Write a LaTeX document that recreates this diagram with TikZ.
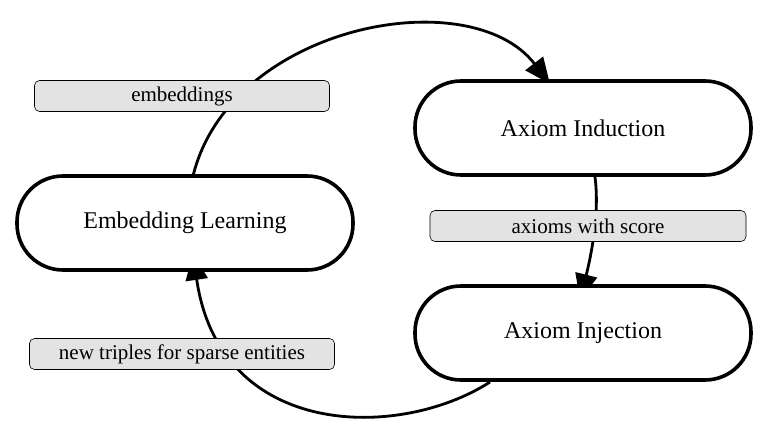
\documentclass[tikz,border=0pt]{standalone}
\usepackage{fontspec}
\setmainfont{Liberation Serif}
\usetikzlibrary{arrows.meta}
\begin{document}
\begin{tikzpicture}[x=1pt,y=-1pt,
  box/.style={draw,line width=3.6pt,rounded corners=46pt,minimum width=336pt,minimum height=94pt,font=\fontsize{24}{28}\selectfont,fill=white},
  lab/.style={draw,line width=0.6pt,fill=gray!22,rounded corners=5pt,minimum height=31pt,font=\fontsize{21}{24}\selectfont},
  arr/.style={line width=2.8pt,-{Triangle[length=26pt,width=22pt]}}]
\useasboundingbox (0,0) rectangle (768,430);
\draw[arr] (193,176) .. controls (230,25) and (470,-20) .. (550,84);
\draw[arr] (595,177) .. controls (600,215) and (590,260) .. (580,300);
\draw[arr] (490,382) .. controls (400,440) and (220,440) .. (193,254);
\node[lab,minimum width=295pt] (l1) at (182,96) {embeddings};
\node[lab,minimum width=316pt] (l2) at (588,226) {axioms with score};
\node[lab,minimum width=305pt] (l3) at (182,354) {new triples for sparse entities};
\node[box] (el) at (185,223) {Embedding Learning};
\node[box] (ai) at (583,128) {Axiom Induction};
\node[box] (aj) at (583,333) {Axiom Injection};
\end{tikzpicture}
\end{document}
